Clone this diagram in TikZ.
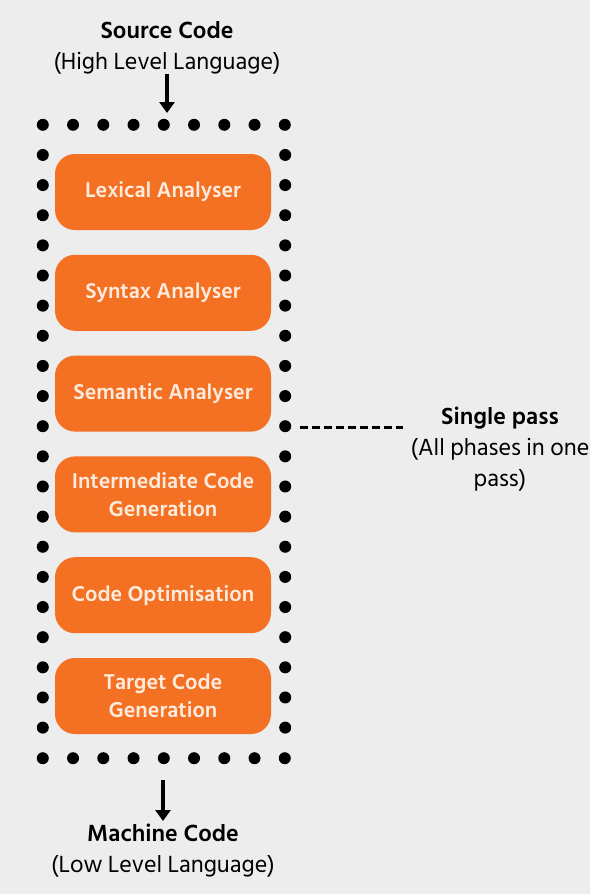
\documentclass[tikz,border=0pt]{standalone}
\usepackage{fontspec}
\setmainfont{Hind Siliguri}
\usetikzlibrary{positioning,arrows.meta}
\definecolor{phaseorange}{HTML}{F47022}
\definecolor{phasetext}{HTML}{FDEBDD}
\definecolor{pagegray}{HTML}{EDEDED}

\begin{document}
\begin{tikzpicture}[
x=1pt,y=-1pt,
node distance=24.4pt,
phase/.style={
fill=phaseorange,
rounded corners=20pt,
minimum width=216pt,
minimum height=76pt,
align=center,
text=phasetext,
font=\fontsize{22}{28}\selectfont\bfseries
},
label/.style={
align=center,
inner sep=0pt,
font=\fontsize{24}{31}\selectfont
},
flow/.style={-{Triangle[width=15pt,length=11pt]},line width=3.5pt},
passline/.style={dashed,dash pattern=on 8pt off 4pt,line width=3pt}
]

\fill[pagegray] (0,0) rectangle (590,894);
\useasboundingbox (0,0) rectangle (590,894);

% the phases
\node[phase] (lex) at (163,192) {Lexical Analyser};
\node[phase] (syn) [below=of lex] {Syntax Analyser};
\node[phase] (sem) [below=of syn] {Semantic Analyser};
\node[phase] (icg) [below=of sem] {Intermediate Code\\Generation};
\node[phase] (opt) [below=of icg] {Code Optimisation};
\node[phase] (tcg) [below=of opt] {Target Code\\Generation};

% dotted frame round them
\node[minimum width=242pt,minimum height=633pt,inner sep=0pt] (frame) at (164,441.5) {};
\foreach \i in {0,...,8} {
  \fill ([xshift=30.25*\i pt]frame.north west) circle[radius=6pt];
  \fill ([xshift=30.25*\i pt]frame.south west) circle[radius=6pt];
}
\foreach \j in {1,...,20} {
  \fill ([yshift=-30.14*\j pt]frame.north west) circle[radius=6pt];
  \fill ([yshift=-30.14*\j pt]frame.north east) circle[radius=6pt];
}

% in and out
\node[label] (src) at (167,48) {\textbf{Source Code}\\(High Level Language)};
\node[label] (mach) at (163,851) {\textbf{Machine Code}\\(Low Level Language)};
\draw[flow] (src.south |- 0,74) -- (src.south |- 0,113);
\draw[flow] (mach.north |- 0,780) -- (mach.north |- 0,821);

% single pass note
\node[label] (pass) at (500,449) {\textbf{Single pass}\\(All phases in one\\pass)};
\coordinate (passin) at (403,427);
\draw[passline] (frame.east |- passin) ++(15,0) -- (passin);

\end{tikzpicture}
\end{document}
